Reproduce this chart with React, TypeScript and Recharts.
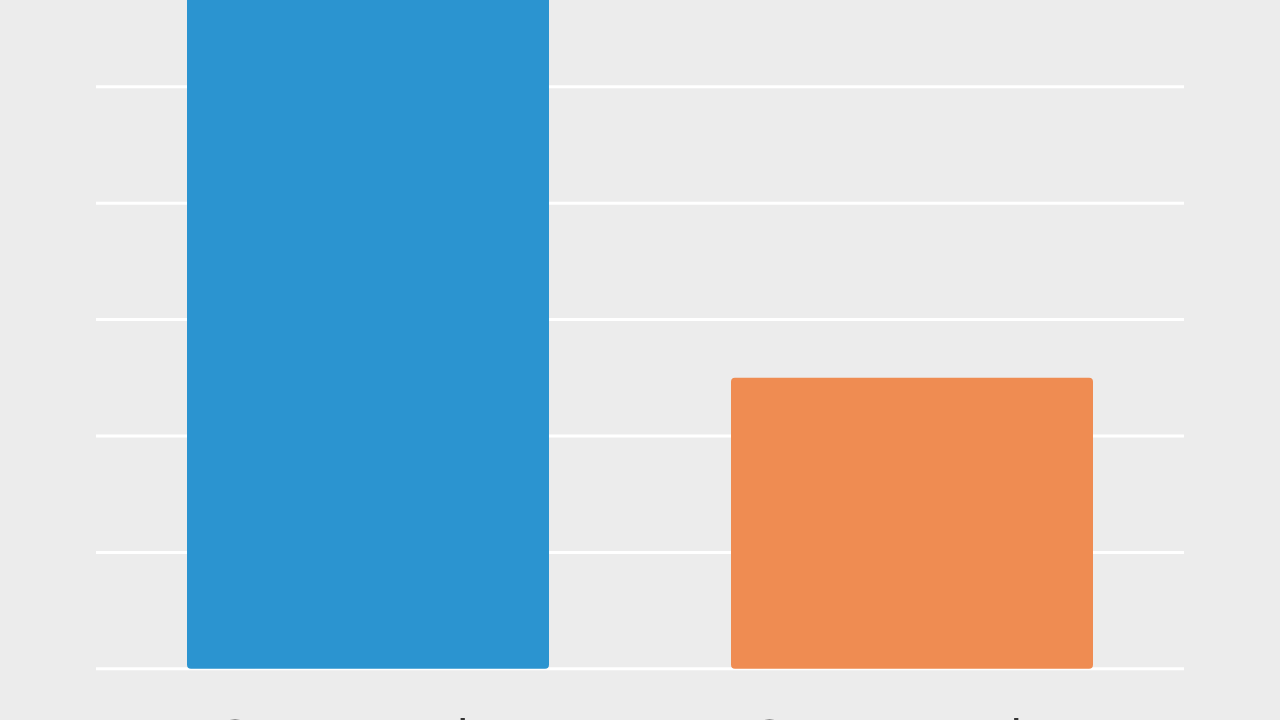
import React from "react";
import { BarChart, Bar, XAxis, YAxis, CartesianGrid, Cell } from "recharts";

const categories = ["Our Brand", "Own Brand"];
const values = [130, 50];
const yTicks = [0, 20, 40, 60, 80, 100, 120, 140];

const COLORS = ["#2b94d0", "#ef8c52"];

const data = categories.map((name, i) => ({ name, value: values[i] }));

// plot area starts above the window so the top gets cut off like the picture
const STEP = 116.4;
const PLOT_H = STEP * 7;
const AXIS_H = 120;

export default function App() {
  return (
    <div
      style={{
        position: "fixed",
        left: 0,
        top: 0,
        width: 1280,
        height: 720,
        overflow: "hidden",
        background: "#ececec",
      }}
    >
      <div style={{ position: "absolute", left: 0, top: 669 - PLOT_H }}>
        <BarChart
          width={1280}
          height={PLOT_H + AXIS_H}
          data={data}
          margin={{ top: 0, right: 96, bottom: 0, left: 96 }}
        >
          <CartesianGrid vertical={false} stroke="#ffffff" strokeWidth={3} />
          <XAxis
            dataKey="name"
            axisLine={false}
            tickLine={false}
            tickSize={0}
            tickMargin={51}
            height={AXIS_H}
            tick={{ fontSize: 52, fill: "#333333", fontFamily: "Open Sans", dx: -26 }}
          />
          <YAxis hide domain={[0, 140]} ticks={yTicks} />
          <Bar dataKey="value" barSize={362} radius={4} isAnimationActive={false}>
            {data.map((entry, index) => (
              <Cell key={`cell-${index}`} fill={COLORS[index]} />
            ))}
          </Bar>
        </BarChart>
      </div>
    </div>
  );
}
